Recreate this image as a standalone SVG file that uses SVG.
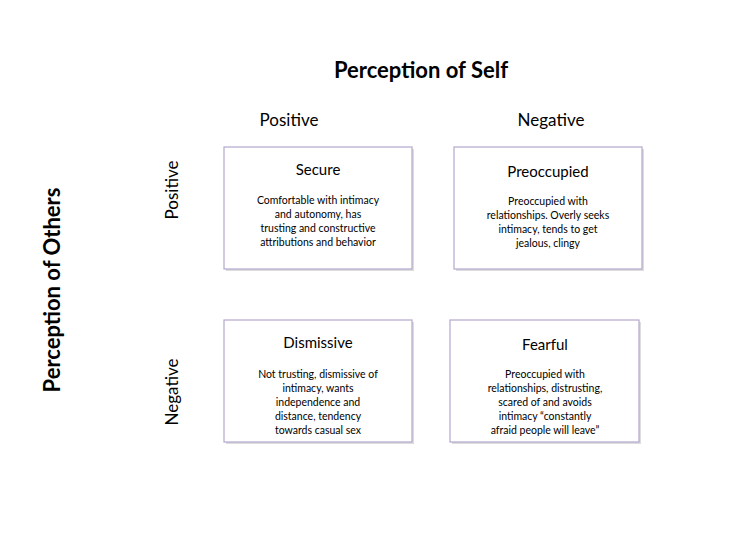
<svg xmlns="http://www.w3.org/2000/svg" width="745" height="547" viewBox="0 0 745 547">
<style>
text{font-family:Lato,"Open Sans","Liberation Sans",sans-serif;fill:#000;text-anchor:middle}
.h{font-size:22px;font-weight:bold}
.s{font-size:17px}
.t{font-size:15px}
.b{font-size:10.5px}
.box{fill:#fff;stroke:#b4a7cc;stroke-width:1.2}
.sh{fill:#ddd}
</style>
<rect width="745" height="547" fill="#fff"/>
<text class="h" x="421" y="78">Perception of Self</text>
<text class="s" x="289" y="126">Positive</text>
<text class="s" x="551" y="126">Negative</text>
<text class="h" transform="translate(60,290) rotate(-90)">Perception of Others</text>
<text class="s" transform="translate(178,190) rotate(-90)">Positive</text>
<text class="s" transform="translate(178,392) rotate(-90)">Negative</text>
<g id="secure">
<rect class="sh" x="226" y="149" width="188" height="122"/>
<rect class="box" x="224" y="147" width="188" height="122"/>
<text class="t" x="318" y="175">Secure</text>
<text class="b" x="318" y="204">Comfortable with intimacy</text>
<text class="b" x="318" y="218">and autonomy, has</text>
<text class="b" x="318" y="232">trusting and constructive</text>
<text class="b" x="318" y="246">attributions and behavior</text>
</g>
<g id="preoccupied">
<rect class="sh" x="456" y="149" width="188" height="122"/>
<rect class="box" x="454" y="147" width="188" height="122"/>
<text class="t" x="548" y="177">Preoccupied</text>
<text class="b" x="548" y="205">Preoccupied with</text>
<text class="b" x="548" y="219">relationships. Overly seeks</text>
<text class="b" x="548" y="233">intimacy, tends to get</text>
<text class="b" x="548" y="247">jealous, clingy</text>
</g>
<g id="dismissive">
<rect class="sh" x="226" y="322" width="188" height="122"/>
<rect class="box" x="224" y="320" width="188" height="122"/>
<text class="t" x="318" y="348">Dismissive</text>
<text class="b" x="318" y="378">Not trusting, dismissive of</text>
<text class="b" x="318" y="392">intimacy, wants</text>
<text class="b" x="318" y="406">independence and</text>
<text class="b" x="318" y="420">distance, tendency</text>
<text class="b" x="318" y="434">towards casual sex</text>
</g>
<g id="fearful">
<rect class="sh" x="452" y="322" width="189" height="122"/>
<rect class="box" x="450" y="320" width="189" height="122"/>
<text class="t" x="545" y="350">Fearful</text>
<text class="b" x="545" y="378">Preoccupied with</text>
<text class="b" x="545" y="392">relationships, distrusting,</text>
<text class="b" x="545" y="406">scared of and avoids</text>
<text class="b" x="545" y="420">intimacy “constantly</text>
<text class="b" x="545" y="434">afraid people will leave”</text>
</g>
<g id="connectors"></g>
</svg>
